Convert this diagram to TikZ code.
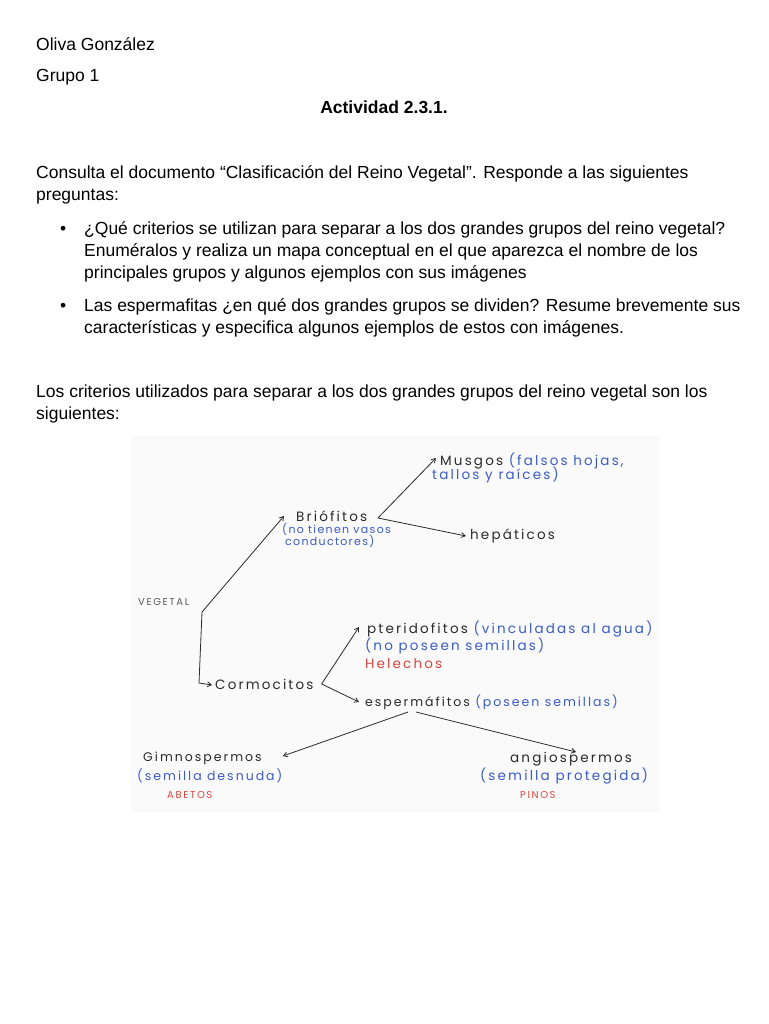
\documentclass[tikz,border=0pt]{standalone}
\usepackage{fontspec}
\setmainfont{Liberation Sans}
\newfontfamily\hand[LetterSpace=16]{Poppins}
\newfontfamily\handn[LetterSpace=12]{Poppins}
\usetikzlibrary{arrows.meta}
\definecolor{hblue}{HTML}{3A5CC4}
\definecolor{hred}{HTML}{D9453F}
\definecolor{hink}{HTML}{2A2A2A}
\definecolor{hgray}{HTML}{5A5A5A}
\definecolor{photobg}{HTML}{FAFAFA}
\begin{document}
\begin{tikzpicture}[x=1pt,y=-1pt,
  body/.style={anchor=base west,inner sep=0pt,font=\fontsize{17.5}{20}\selectfont},
  hw/.style={anchor=west,inner sep=0pt,text=hink,font=\hand\fontsize{13.5}{15}\selectfont},
  hwb/.style={hw,text=hblue},
  hwr/.style={hw,text=hred},
  note/.style={font=\handn\fontsize{11}{12}\selectfont},
  tight/.style={font=\hand\fontsize{12.5}{14}\selectfont},
  small/.style={font=\hand\fontsize{10}{12}\selectfont},
  link/.style={draw=hink,line width=0.8pt},
  arr/.style={link,-{Straight Barb[length=4pt,width=5pt]}}]
\useasboundingbox (0,0) rectangle (768,1024);
\fill[white] (0,0) rectangle (768,1024);
% body text
\node[body] (t1) at (36,51) {Oliva González};
\node[body] (t2) at (36,82) {Grupo 1};
\node[body,anchor=base,font=\bfseries\fontsize{17.5}{20}\selectfont] (t3) at (384,114) {Actividad 2.3.1.};
\node[body] (t4) at (36,179) {Consulta el documento “Clasificación del Reino Vegetal”. Responde a las siguientes};
\node[body] (t5) at (36,201) {preguntas:};
\node[body] (b1) at (60,234) {•};
\node[body] (t6) at (84,234) {¿Qué criterios se utilizan para separar a los dos grandes grupos del reino vegetal?};
\node[body] (t7) at (84,256) {Enuméralos y realiza un mapa conceptual en el que aparezca el nombre de los};
\node[body] (t8) at (84,278) {principales grupos y algunos ejemplos con sus imágenes};
\node[body] (b2) at (60,311) {•};
\node[body] (t9) at (84,311) {Las espermafitas ¿en qué dos grandes grupos se dividen? Resume brevemente sus};
\node[body] (t10) at (84,333) {características y especifica algunos ejemplos de estos con imágenes.};
\node[body] (t11) at (36,397) {Los criterios utilizados para separar a los dos grandes grupos del reino vegetal son los};
\node[body] (t12) at (36,419) {siguientes:};
% photo area
\fill[photobg] (131,436) rectangle (660,812);
% handwritten map
\node[hw,small,text=hgray] (veg) at (138,602) {VEGETAL};
\coordinate (vc) at (202,612);
\coordinate (vb) at (199,683);
\node[hw] (brio) at (296,516) {Briófitos};
\node[hwb,note] (brio2) at (282,529) {(no tienen vasos};
\node[hwb,note] (brio3) at (285,541) {conductores)};
\node[hw] (musg) at (440,461) {Musgos \textcolor{hblue}{(falsos hojas,}};
\node[hwb] (musg2) at (432,475) {tallos y raíces)};
\node[hw] (hep) at (470,536) {hepáticos};
\node[hw] (corm) at (215,684) {Cormocitos};
\node[hw] (pter) at (367,629) {pteridofitos \textcolor{hblue}{(vinculadas al agua)}};
\node[hwb] (pter2) at (365,646) {(no poseen semillas)};
\node[hwr] (pter3) at (365,664) {Helechos};
\node[hw,tight] (esp) at (365,702) {espermáfitos \textcolor{hblue}{(poseen semillas)}};
\node[hw,tight] (gim) at (143,758) {Gimnospermos};
\node[hwb,tight] (gim2) at (137,776) {(semilla desnuda)};
\node[hwr,small] (gim3) at (167,795) {ABETOS};
\node[hw] (ang) at (510,759) {angiospermos};
\node[hwb] (ang2) at (480,776) {(semilla protegida)};
\node[hwr,small] (ang3) at (520,795) {PINOS};
% connectors
\draw[arr] (vc) -- ([xshift=-12pt]brio.west);
\draw[link] (vc) -- (vb);
\draw[arr] (vb) -- ([xshift=-3pt,yshift=-1pt]corm.west);
\coordinate (be) at (378,518);
\draw[arr] (be) -- ([xshift=-4pt,yshift=3pt]musg.west);
\draw[arr] (be) -- ([xshift=-4pt]hep.west);
\coordinate (ce) at ([xshift=8pt]corm.east);
\draw[arr] (ce) -- ([xshift=-8pt,yshift=2pt]pter.west);
\draw[arr] (ce) -- ([xshift=-6pt]esp.west);
\coordinate (eg) at ([xshift=43pt,yshift=-10pt]esp.west);
\coordinate (ea) at ([xshift=51pt,yshift=-10pt]esp.west);
\draw[arr] (eg) -- ([xshift=21pt,yshift=2pt]gim.east);
\draw[arr] (ea) -- ([xshift=66pt,yshift=7pt]ang.west);
\end{tikzpicture}
\end{document}
